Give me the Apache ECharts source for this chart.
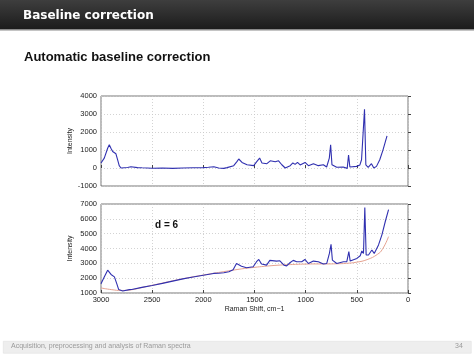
<!DOCTYPE html>
<html><head><meta charset="utf-8">
<script src="https://cdn.jsdelivr.net/npm/echarts@6/dist/echarts.min.js"></script>
<style>html,body{margin:0;padding:0;background:#fff}#c{width:474px;height:355px}</style>
</head><body><div id="c"></div>
<script>
// Corrected spectrum (top panel)
const topX = [3000,2968,2935,2919,2903,2886,2870,2854,2838,2822,2805,2740,2708,2643,2600,2500,2400,2300,2200,2100,2000,1950,1897,1850,1800,1768,1703,1670,1654,1622,1573,1508,1476,1450,1427,1379,1346,1297,1265,1233,1200,1151,1125,1103,1080,1054,1006,973,924,876,827,795,769,756,743,697,633,594,581,568,503,470,454,438,425,412,389,357,334,308,276,244,205];
const topY = [280,550,1100,1290,1100,920,870,790,460,130,0,30,70,20,10,-10,0,-20,0,10,20,40,70,0,-20,20,130,370,500,310,180,130,370,550,280,240,400,350,400,180,0,130,280,200,310,170,310,130,240,130,180,55,550,1290,180,40,55,-20,720,55,90,170,460,420,3260,180,40,240,0,90,460,1010,1790];
// Raw spectrum (bottom panel)
const rawX = [3000,2967,2935,2902,2886,2869,2846,2827,2788,2722,2700,2600,2500,2400,2300,2200,2100,2000,1900,1850,1800,1750,1709,1676,1627,1578,1513,1480,1458,1431,1382,1350,1284,1252,1212,1186,1154,1121,1088,1039,1007,974,925,876,827,794,768,752,739,696,631,598,578,565,500,467,451,435,422,409,386,353,330,288,255,222,190];
const rawY = [1630,2090,2540,2250,2150,2090,1630,1230,1140,1230,1240,1380,1510,1650,1800,1950,2080,2200,2320,2330,2370,2430,2560,2990,2810,2700,2770,3110,3260,2950,2880,3200,3150,3170,2880,2830,3040,3200,3110,3110,3260,2990,3150,3110,2950,2990,3670,4280,3220,2990,3110,3110,3790,3150,3330,3510,3830,3670,6770,3560,3560,3900,3670,4240,4920,5820,6620];
// Fitted baseline (bottom panel)
const baseX = [3000,2900,2800,2700,2600,2500,2400,2300,2200,2100,2000,1900,1800,1700,1600,1500,1400,1300,1200,1100,1000,900,800,700,600,500,400,300,250,190];
const baseY = [1340,1230,1170,1220,1370,1520,1670,1820,1960,2090,2210,2330,2440,2550,2650,2730,2800,2860,2900,2930,2950,2960,2960,2970,3000,3080,3250,3600,3950,4800];

const pair = (xs, ys) => xs.map((x, i) => [x, ys[i]]);
const lblFont = {fontFamily:'Liberation Sans, Arial, sans-serif', fontSize:7.5, color:'#222'};
const gridLine = {show:true, lineStyle:{color:'#c8c8c8', type:[1,2], width:0.8}};
const plain = v => String(v);
function xAxis(idx, showLabels){
  return {type:'value', gridIndex:idx, min:0, max:3000, interval:500, inverse:true,
    axisLine:{show:false}, axisTick:{show:true, inside:true, length:3, lineStyle:{color:'#444'}},
    axisLabel:Object.assign({show:showLabels, margin:3, formatter:plain}, lblFont),
    splitLine:gridLine,
    name: showLabels ? 'Raman Shift, cm\u22121' : '', nameLocation:'middle', nameGap:13, nameMoveOverlap:false,
    nameTextStyle:Object.assign({}, lblFont, {fontSize:7})};
}
function yAxis(idx, min, max){
  return {type:'value', gridIndex:idx, min:min, max:max, interval:1000,
    axisLine:{show:false}, axisTick:{show:true, inside:true, length:3, lineStyle:{color:'#444'}},
    axisLabel:Object.assign({margin:4, formatter:plain}, lblFont),
    splitLine:gridLine,
    name:'Intensity', nameLocation:'middle', nameGap:27, nameMoveOverlap:false,
    nameTextStyle:Object.assign({}, lblFont, {fontSize:7})};
}
const chart = echarts.init(document.getElementById('c'), null, {renderer:'canvas'});
chart.setOption({
  animation:false,
  backgroundColor:'#ffffff',
  grid:[
    {left:101, top:96, width:307, height:90, show:true, borderColor:'#555', borderWidth:0.8, backgroundColor:'transparent'},
    {left:101, top:204, width:307, height:89, show:true, borderColor:'#555', borderWidth:0.8, backgroundColor:'transparent'}
  ],
  xAxis:[xAxis(0,false), xAxis(1,true)],
  yAxis:[yAxis(0,-1000,4000), yAxis(1,1000,7000)],
  series:[
    {type:'line', xAxisIndex:0, yAxisIndex:0, data:pair(topX, topY), showSymbol:false, lineStyle:{color:'#3030b0', width:1.1}},
    {type:'line', xAxisIndex:1, yAxisIndex:1, data:pair(baseX, baseY), showSymbol:false, smooth:true, lineStyle:{color:'#e6a391', width:1}, z:2},
    {type:'line', xAxisIndex:1, yAxisIndex:1, data:pair(rawX, rawY), showSymbol:false, lineStyle:{color:'#3030b0', width:1.1}, z:3}
  ],
  graphic:[
    {type:'rect', left:0, top:0, shape:{width:474, height:29},
      style:{fill:new echarts.graphic.LinearGradient(0,0,0,1,[{offset:0,color:'#3e3e3e'},{offset:1,color:'#1c1c1c'}])}},
    {type:'rect', left:0, top:29, shape:{width:474, height:1.5}, style:{fill:'#8a8a8a'}},
    {type:'text', left:23, top:10, style:{text:'Baseline correction', fill:'#ffffff', font:'bold 12px "DejaVu Sans", Verdana, sans-serif'}},
    {type:'text', left:24, top:51, style:{text:'Automatic baseline correction', fill:'#111111', font:'bold 13px "Liberation Sans", Arial, sans-serif'}},
    {type:'text', left:155, top:220, style:{text:'d = 6', fill:'#111111', font:'bold 10px "Liberation Sans", Arial, sans-serif'}},
    {type:'rect', left:3, top:341, shape:{width:468, height:12}, style:{fill:'#eeeeee', stroke:'#dddddd', lineWidth:0.5}},
    {type:'text', left:11, top:343, style:{text:'Acquisition, preprocessing and analysis of Raman spectra', fill:'#9a9a9a', font:'7px "Liberation Sans", Arial, sans-serif'}},
    {type:'text', left:455, top:343, style:{text:'34', fill:'#9a9a9a', font:'7px "Liberation Sans", Arial, sans-serif'}}
  ]
});
</script></body></html>
